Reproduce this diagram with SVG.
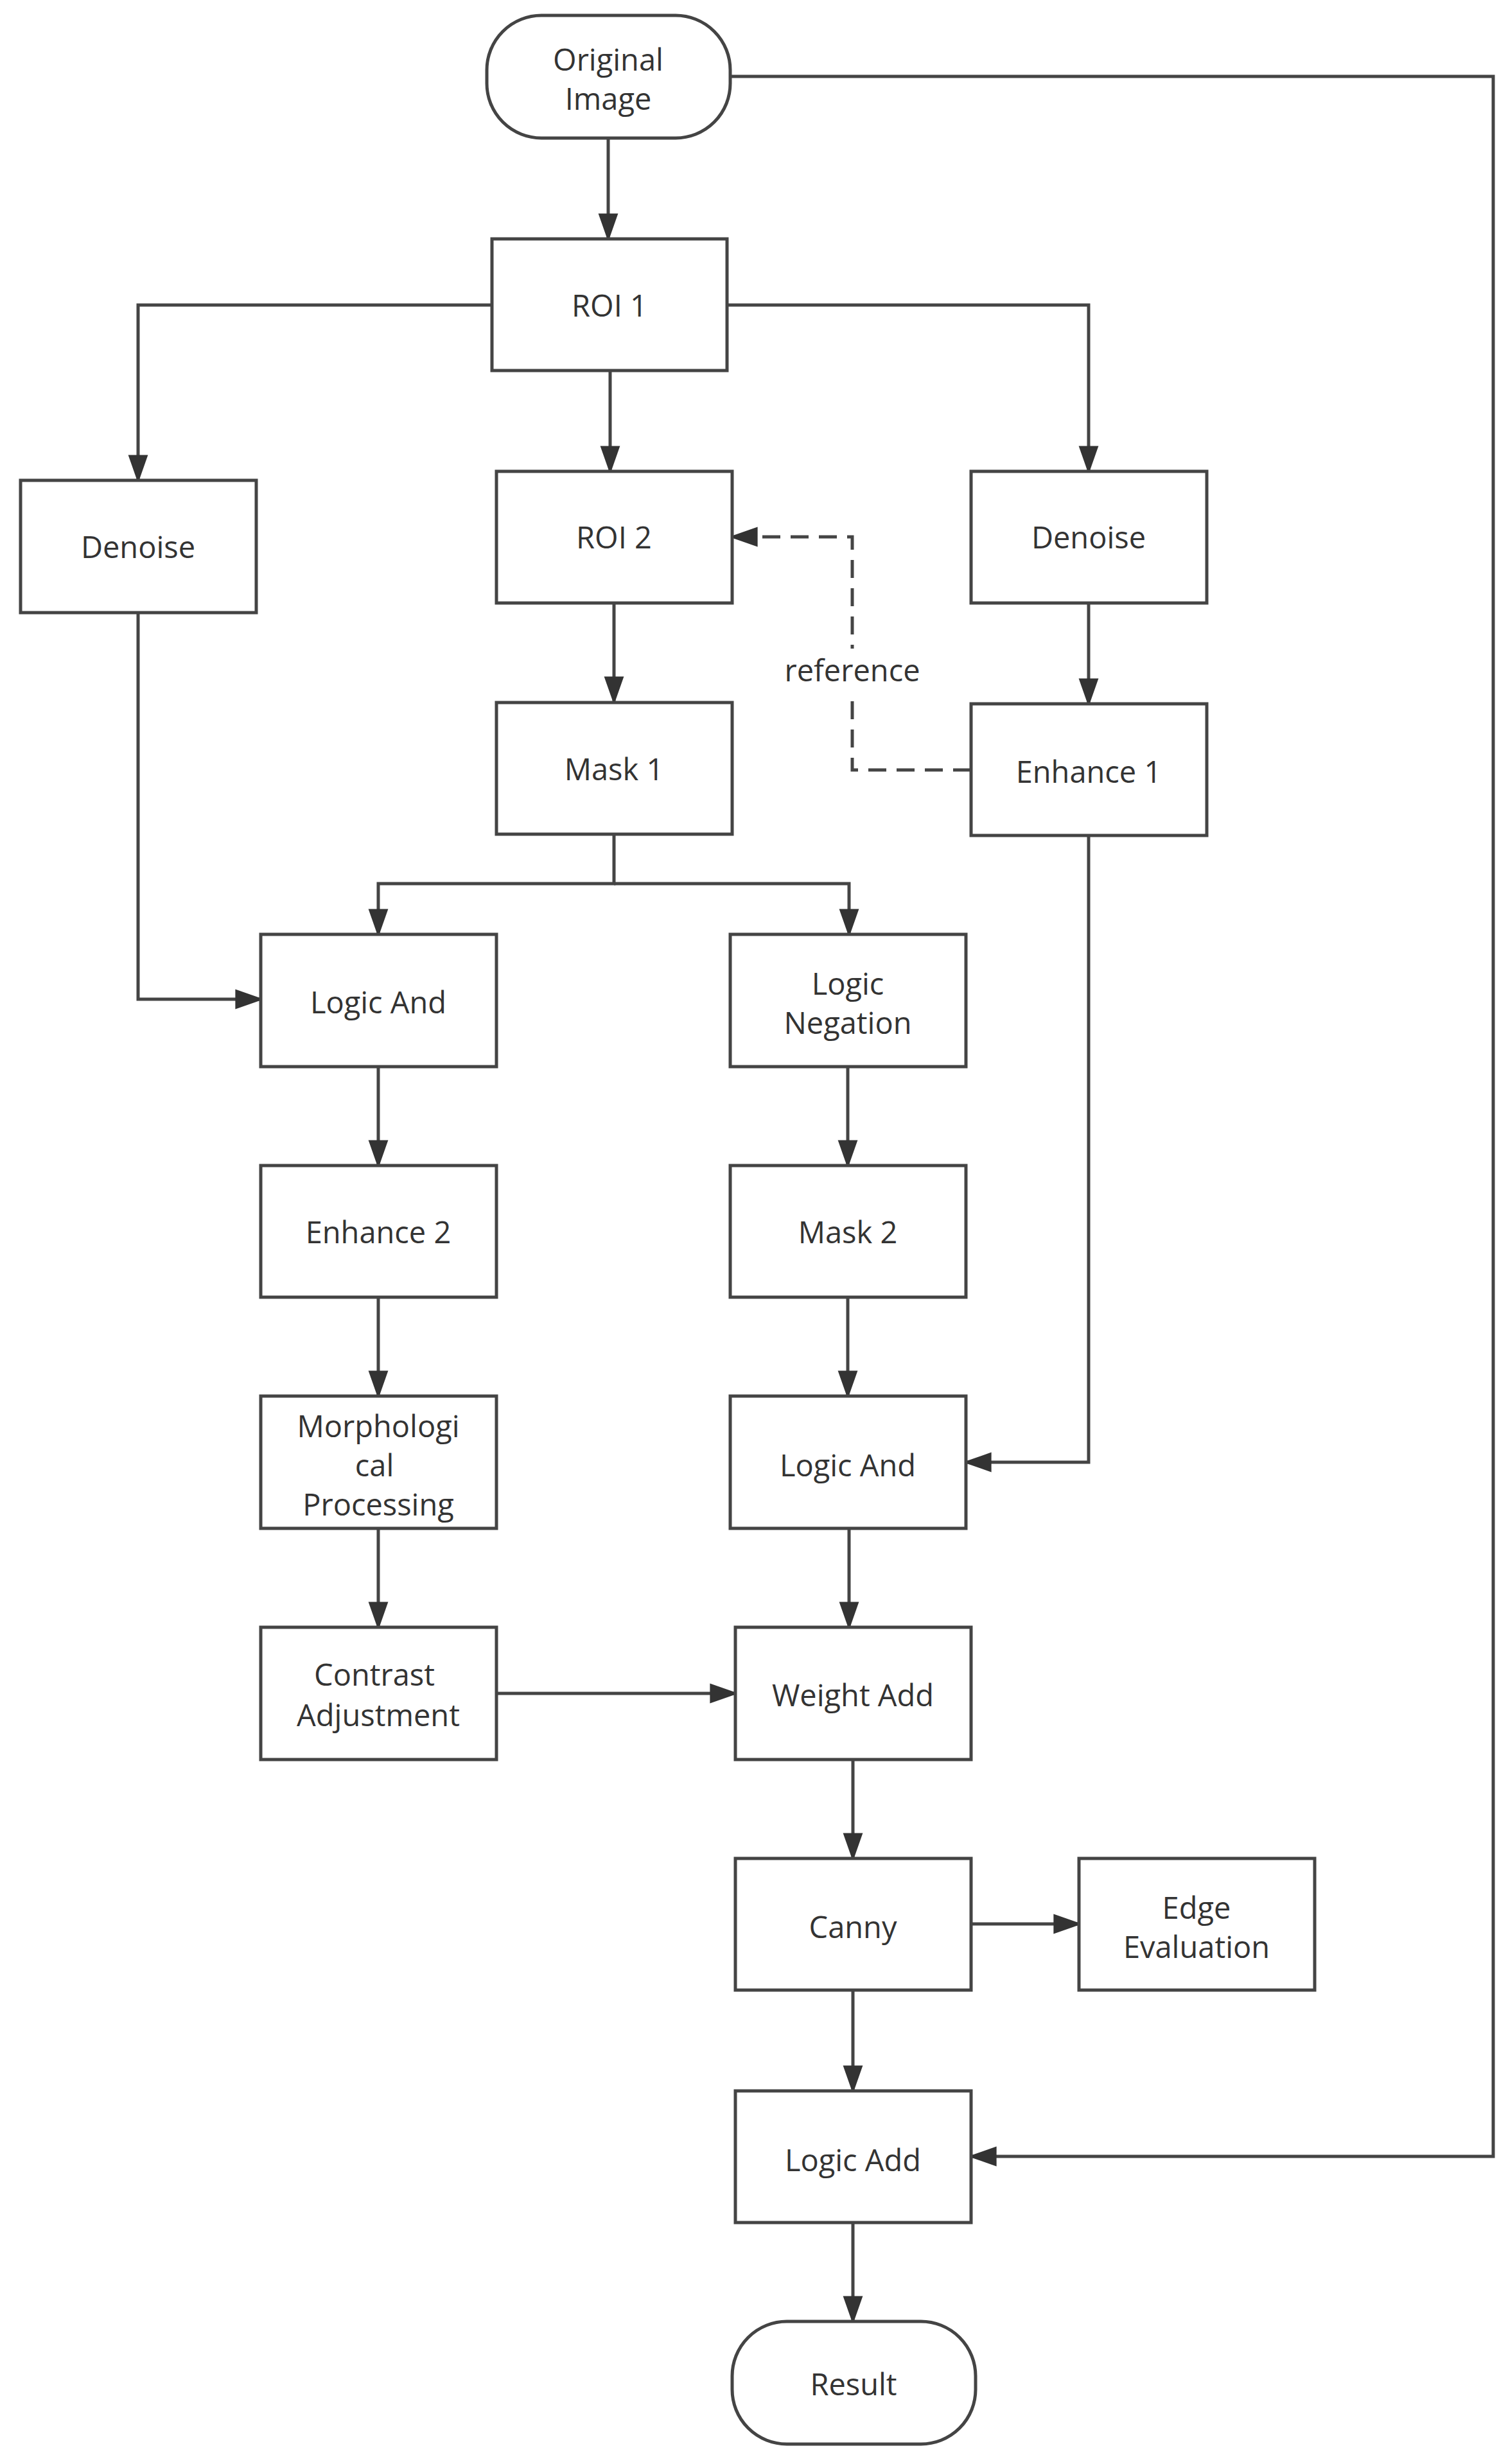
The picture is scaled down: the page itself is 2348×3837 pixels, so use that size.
<svg xmlns="http://www.w3.org/2000/svg" width="2348" height="3837" viewBox="0 0 2348 3837">
<style>
.n{fill:#fff;stroke:#444;stroke-width:5}
.t{font-family:"Open Sans","Noto Sans",sans-serif;font-size:47px;fill:#333;text-anchor:middle;dominant-baseline:central}
.c{fill:none;stroke:#444;stroke-width:5;marker-end:url(#a)}
.d{stroke-dasharray:28 16}
</style>
<defs><marker id="a" markerWidth="10" markerHeight="10" refX="9" refY="5" orient="auto" markerUnits="userSpaceOnUse" viewBox="0 0 10 10"><path d="M0,0L10,5L0,10z" fill="#333"/></marker>
</defs>
<rect width="2348" height="3837" fill="#fff"/>
<defs><marker id="b" viewBox="0 0 10 10" refX="9" refY="5" markerWidth="44" markerHeight="44" markerUnits="userSpaceOnUse" orient="auto"><path d="M0,1.5L10,5L0,8.5z" fill="#333"/></marker></defs>
<style>.c{marker-end:url(#b)}</style>
<g id="connectors">
<path class="c" d="M947,215V372"/>
<path class="c" d="M766,475H215V748"/>
<path class="c" d="M1132,475H1695V734"/>
<path class="c" d="M950,577V734"/>
<path class="c" d="M956,939V1093"/>
<path class="c" d="M1695,939V1096"/>
<path class="c" d="M956,1299V1376H589V1455"/>
<path class="c" d="M956,1376H1322V1455"/>
<path class="c" d="M215,954V1556H406"/>
<path class="c" d="M1695,1301V2277H1504"/>
<path class="c d" d="M1512,1199H1327V836H1140"/>
<path class="c" d="M589,1661V1815"/>
<path class="c" d="M589,2020V2174"/>
<path class="c" d="M589,2380V2534"/>
<path class="c" d="M1320,1661V1815"/>
<path class="c" d="M1320,2020V2174"/>
<path class="c" d="M1322,2380V2534"/>
<path class="c" d="M773,2637H1145"/>
<path class="c" d="M1328,2740V2894"/>
<path class="c" d="M1512,2996H1680"/>
<path class="c" d="M1328,3099V3256"/>
<path class="c" d="M1328,3461V3615"/>
<path class="c" d="M1137,119H2325V3358H1512"/>
<rect x="1213" y="1010" width="228" height="66" fill="#fff"/>
<text class="t" x="1327" y="1043">reference</text>
</g>
<g id="orig"><rect class="n" x="758" y="24" width="379" height="191" rx="85"/><text class="t" x="947" y="92">Original</text><text class="t" x="947" y="153">Image</text></g>
<g id="roi1"><rect class="n" x="766" y="372" width="366" height="205"/><text class="t" x="949" y="475">ROI 1</text></g>
<g id="denoiseL"><rect class="n" x="32" y="748" width="367" height="206"/><text class="t" x="215" y="851">Denoise</text></g>
<g id="roi2"><rect class="n" x="773" y="734" width="367" height="205"/><text class="t" x="956" y="836">ROI 2</text></g>
<g id="denoiseR"><rect class="n" x="1512" y="734" width="367" height="205"/><text class="t" x="1695" y="836">Denoise</text></g>
<g id="mask1"><rect class="n" x="773" y="1094" width="367" height="205"/><text class="t" x="956" y="1197">Mask 1</text></g>
<g id="enh1"><rect class="n" x="1512" y="1096" width="367" height="205"/><text class="t" x="1695" y="1201">Enhance 1</text></g>
<g id="andL"><rect class="n" x="406" y="1455" width="367" height="206"/><text class="t" x="589" y="1560">Logic And</text></g>
<g id="neg"><rect class="n" x="1137" y="1455" width="367" height="206"/><text class="t" x="1320" y="1531">Logic</text><text class="t" x="1320" y="1592">Negation</text></g>
<g id="enh2"><rect class="n" x="406" y="1815" width="367" height="205"/><text class="t" x="589" y="1918">Enhance 2</text></g>
<g id="mask2"><rect class="n" x="1137" y="1815" width="367" height="205"/><text class="t" x="1320" y="1918">Mask 2</text></g>
<g id="morph"><rect class="n" x="406" y="2174" width="367" height="206"/><text class="t" x="589" y="2220">Morphologi</text><text class="t" x="583" y="2281">cal</text><text class="t" x="589" y="2342">Processing</text></g>
<g id="andR"><rect class="n" x="1137" y="2174" width="367" height="206"/><text class="t" x="1320" y="2281">Logic And</text></g>
<g id="contrast"><rect class="n" x="406" y="2534" width="367" height="206"/><text class="t" x="583" y="2607">Contrast</text><text class="t" x="589" y="2670">Adjustment</text></g>
<g id="weight"><rect class="n" x="1145" y="2534" width="367" height="206"/><text class="t" x="1328" y="2639">Weight Add</text></g>
<g id="canny"><rect class="n" x="1145" y="2894" width="367" height="205"/><text class="t" x="1328" y="3000">Canny</text></g>
<g id="edge"><rect class="n" x="1680" y="2894" width="367" height="205"/><text class="t" x="1863" y="2970">Edge</text><text class="t" x="1863" y="3031">Evaluation</text></g>
<g id="ladd"><rect class="n" x="1145" y="3256" width="367" height="205"/><text class="t" x="1328" y="3363">Logic Add</text></g>
<g id="result"><rect class="n" x="1140" y="3615" width="379" height="191" rx="85"/><text class="t" x="1329" y="3712">Result</text></g>
</svg>
